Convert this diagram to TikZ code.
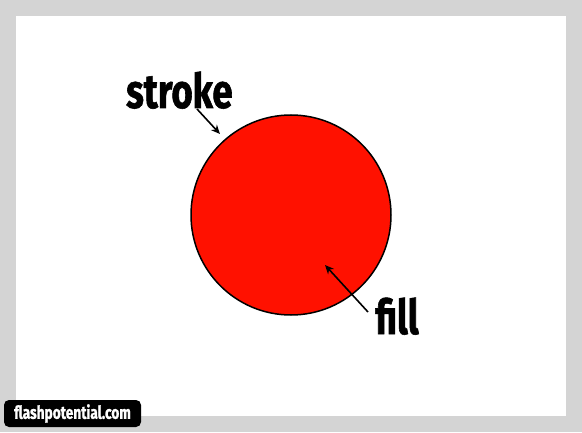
\documentclass[tikz,border=0pt]{standalone}
\usepackage{fontspec}
\usepackage{xcolor}
\usepackage{tikz}
\usetikzlibrary{arrows.meta}
\newfontfamily\condfont[FakeStretch=0.76,FakeBold=1.2]{Fira Sans}
\definecolor{framegray}{HTML}{D4D4D4}
\definecolor{fillred}{HTML}{FF1100}
\tikzset{%
  callout/.style = {font=\condfont\bfseries\fontsize{48}{48}\selectfont,
        inner sep=0pt, anchor=base west},
  pointer/.style = {-{Stealth[length=9pt,width=8pt]}, line width=1.6pt},
  badge/.style = {rectangle, rounded corners=5pt, fill=black, text=white,
        font=\condfont\bfseries\fontsize{18}{18}\selectfont,
        minimum width=137pt, minimum height=27pt, inner sep=0pt}
}
\begin{document}
\begin{tikzpicture}[x=1pt,y=1pt]
    \fill[framegray] (0,0) rectangle (582,432);
    \fill[white] (16,16) rectangle (566,416);
    \node[circle, draw, fill=fillred, line width=1.5pt,
          minimum size=200pt, inner sep=0pt] (disc) at (291,217) {};
    \node[callout] (stroke) at (126,324) {stroke};
    \node[callout] (fill) at (375,98) {fill};
    \coordinate (strokefrom) at (197,323);
    \coordinate (stroketo) at (220,298);
    \coordinate (fillfrom) at (368,120);
    \coordinate (fillto) at (325,167);
    \draw[pointer] (strokefrom) -- (stroketo);
    \draw[pointer] (fillfrom) -- (fillto);
    \node[badge] (site) at (72.5,18.5) {flashpotential.com};
\end{tikzpicture}
\end{document}
